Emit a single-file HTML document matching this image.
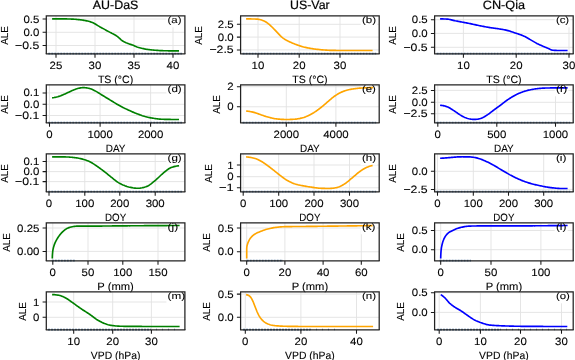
<!DOCTYPE html><html><head><meta charset="utf-8"><style>html,body{margin:0;padding:0;background:#fff;width:575px;height:360px;overflow:hidden}svg{display:block;text-rendering:geometricPrecision;will-change:transform}text{font-family:"Liberation Sans",sans-serif;fill:#000;stroke:#000;stroke-width:0.09px}</style></head><body>
<svg width="575" height="360" viewBox="0 0 575 360">
<rect width="575" height="360" fill="#fff"/>
<path d="M56.00,15.80V53.90M95.00,15.80V53.90M134.00,15.80V53.90M173.00,15.80V53.90M46.30,19.00H184.90M46.30,32.30H184.90M46.30,45.50H184.90" stroke="#e2e2e2" stroke-width="0.9" fill="none"/>
<rect x="166.38" y="17.30" width="16.33" height="10" fill="#fff"/>
<path d="M52.10,18.90 L53.11,18.90 L54.12,18.90 L55.13,18.90 L55.80,18.90 L56.81,18.90 L57.82,18.90 L58.83,18.90 L59.83,18.90 L60.84,18.90 L61.85,18.90 L62.86,18.90 L63.53,18.90 L64.54,18.90 L65.55,18.91 L66.56,18.93 L67.57,18.95 L68.58,18.98 L69.59,19.01 L70.59,19.05 L71.27,19.08 L72.27,19.12 L73.28,19.17 L74.29,19.22 L75.29,19.29 L76.30,19.37 L77.30,19.46 L78.31,19.57 L78.98,19.64 L79.98,19.77 L80.98,19.90 L81.98,20.03 L82.98,20.18 L83.97,20.34 L84.97,20.51 L85.63,20.64 L86.62,20.84 L87.61,21.06 L88.59,21.30 L89.56,21.56 L90.52,21.86 L91.47,22.20 L92.40,22.58 L93.02,22.85 L93.92,23.29 L94.80,23.77 L95.68,24.27 L96.54,24.80 L97.40,25.33 L98.27,25.85 L99.14,26.36 L99.72,26.70 L100.60,27.19 L101.49,27.68 L102.37,28.16 L103.26,28.65 L104.14,29.13 L105.03,29.62 L105.62,29.94 L106.50,30.43 L107.38,30.91 L108.27,31.40 L109.15,31.89 L110.04,32.37 L110.93,32.85 L111.82,33.32 L112.42,33.62 L113.33,34.08 L114.23,34.54 L115.12,35.02 L115.98,35.53 L116.82,36.08 L117.62,36.68 L118.39,37.32 L118.90,37.77 L119.64,38.46 L120.37,39.15 L121.12,39.83 L121.91,40.45 L122.74,41.01 L123.61,41.51 L124.50,41.98 L125.11,42.27 L126.03,42.69 L126.96,43.08 L127.90,43.44 L128.85,43.79 L129.80,44.11 L130.76,44.43 L131.40,44.65 L132.35,44.99 L133.29,45.35 L134.21,45.75 L135.13,46.16 L136.06,46.57 L136.99,46.93 L137.95,47.25 L138.59,47.43 L139.57,47.69 L140.55,47.94 L141.53,48.19 L142.51,48.43 L143.49,48.66 L144.47,48.88 L145.46,49.07 L146.12,49.19 L147.12,49.35 L148.11,49.49 L149.11,49.63 L150.11,49.75 L151.12,49.87 L152.12,49.98 L152.79,50.05 L153.80,50.14 L154.80,50.22 L155.81,50.30 L156.82,50.37 L157.82,50.43 L158.83,50.49 L159.84,50.56 L160.51,50.59 L161.52,50.65 L162.52,50.69 L163.53,50.73 L164.54,50.76 L165.55,50.78 L166.56,50.79 L167.57,50.80 L168.24,50.80 L169.25,50.80 L170.26,50.80 L171.26,50.80 L172.27,50.80 L173.28,50.80 L174.29,50.80 L175.30,50.80 L175.97,50.80 L176.98,50.80 L177.99,50.80 L179.00,50.80" stroke="#008000" stroke-width="1.65" fill="none" stroke-linejoin="round" stroke-linecap="butt"/>
<path d="M48.30,53.60H181.90" stroke="#1f4f80" stroke-width="1.9" stroke-dasharray="2 1" fill="none" opacity="0.75"/>
<path d="M46.30,53.90V15.80H184.90V53.90" fill="none" stroke="#222" stroke-width="1.25"/>
<path d="M45.80,53.90H185.40" fill="none" stroke="#222" stroke-width="1.25"/>
<path d="M56.00,53.90v3.9M95.00,53.90v3.9M134.00,53.90v3.9M173.00,53.90v3.9M46.30,19.00h-3.7M46.30,32.30h-3.7M46.30,45.50h-3.7" stroke="#181818" stroke-width="1.05" fill="none"/>
<text x="56.00" y="68.50" font-size="10.6" text-anchor="middle" textLength="12.73" lengthAdjust="spacingAndGlyphs">25</text>
<text x="95.00" y="68.50" font-size="10.6" text-anchor="middle" textLength="12.73" lengthAdjust="spacingAndGlyphs">30</text>
<text x="134.00" y="68.50" font-size="10.6" text-anchor="middle" textLength="12.73" lengthAdjust="spacingAndGlyphs">35</text>
<text x="173.00" y="68.50" font-size="10.6" text-anchor="middle" textLength="12.73" lengthAdjust="spacingAndGlyphs">40</text>
<text x="23.50" y="22.50" font-size="10.6" textLength="15.90" lengthAdjust="spacingAndGlyphs">0.5</text>
<text x="23.50" y="35.80" font-size="10.6" textLength="15.90" lengthAdjust="spacingAndGlyphs">0.0</text>
<text x="15.12" y="49.00" font-size="10.6" textLength="24.28" lengthAdjust="spacingAndGlyphs">−0.5</text>
<text transform="translate(7.72,35.45) rotate(-90)" x="-9.37" y="0" font-size="10.2" textLength="18.73" lengthAdjust="spacingAndGlyphs">ALE</text>
<text x="115.60" y="82.60" font-size="10.6" text-anchor="middle" textLength="35.42" lengthAdjust="spacingAndGlyphs">TS (°C)</text>
<text transform="translate(167.57,23.10) scale(1,0.93)" x="0" y="0" font-size="10.1" textLength="13.93" lengthAdjust="spacingAndGlyphs">(a)</text>
<text x="115.60" y="9.25" style="stroke-width:0.2px" font-size="12.2" text-anchor="middle" textLength="45.53" lengthAdjust="spacingAndGlyphs">AU-DaS</text>
<path d="M258.00,15.80V53.90M299.20,15.80V53.90M340.00,15.80V53.90M240.60,24.30H379.20M240.60,37.10H379.20M240.60,49.90H379.20" stroke="#e2e2e2" stroke-width="0.9" fill="none"/>
<rect x="360.68" y="17.30" width="16.55" height="10" fill="#fff"/>
<path d="M246.10,18.90 L247.14,18.90 L248.17,18.91 L249.20,18.92 L249.88,18.93 L250.91,18.94 L251.93,18.96 L252.94,18.98 L253.96,19.00 L254.97,19.03 L255.97,19.07 L256.98,19.13 L257.65,19.19 L258.66,19.32 L259.66,19.52 L260.67,19.78 L261.66,20.08 L262.63,20.42 L263.57,20.79 L264.48,21.19 L265.07,21.49 L265.94,21.98 L266.79,22.54 L267.61,23.16 L268.42,23.81 L269.21,24.48 L269.99,25.16 L270.75,25.84 L271.25,26.30 L271.99,27.00 L272.71,27.72 L273.42,28.45 L274.12,29.20 L274.82,29.94 L275.53,30.68 L276.00,31.18 L276.70,31.92 L277.41,32.66 L278.11,33.41 L278.81,34.17 L279.52,34.91 L280.23,35.65 L280.96,36.35 L281.46,36.81 L282.23,37.46 L283.02,38.07 L283.85,38.65 L284.71,39.20 L285.58,39.72 L286.48,40.23 L287.38,40.71 L287.99,41.03 L288.90,41.48 L289.82,41.92 L290.74,42.35 L291.67,42.76 L292.61,43.16 L293.56,43.55 L294.19,43.80 L295.14,44.17 L296.10,44.53 L297.05,44.88 L298.01,45.23 L298.98,45.57 L299.95,45.89 L300.92,46.20 L301.57,46.40 L302.55,46.68 L303.53,46.94 L304.52,47.19 L305.51,47.42 L306.51,47.64 L307.51,47.84 L308.51,48.04 L309.18,48.16 L310.18,48.34 L311.19,48.51 L312.19,48.67 L313.20,48.82 L314.21,48.96 L315.22,49.10 L316.23,49.23 L316.91,49.31 L317.92,49.42 L318.94,49.53 L319.95,49.63 L320.97,49.72 L321.98,49.82 L323.00,49.90 L323.68,49.96 L324.69,50.04 L325.71,50.11 L326.73,50.17 L327.75,50.23 L328.76,50.27 L329.78,50.31 L330.80,50.34 L331.48,50.35 L332.50,50.38 L333.52,50.40 L334.54,50.42 L335.56,50.44 L336.58,50.46 L337.60,50.47 L338.62,50.48 L339.30,50.49 L340.32,50.49 L341.34,50.50 L342.35,50.50 L343.37,50.50 L344.39,50.50 L345.41,50.50 L346.09,50.50 L347.11,50.50 L348.13,50.50 L349.15,50.50 L350.17,50.50 L351.19,50.50 L352.21,50.50 L353.23,50.50 L353.91,50.50 L354.93,50.50 L355.95,50.50 L356.97,50.50 L357.99,50.50 L359.01,50.50 L360.03,50.50 L361.05,50.50 L361.72,50.50 L362.74,50.50 L363.76,50.50 L364.78,50.50 L365.80,50.50 L366.82,50.50 L367.84,50.50 L368.86,50.50 L369.54,50.50 L370.56,50.50 L371.58,50.50 L372.60,50.50" stroke="#ffa500" stroke-width="1.65" fill="none" stroke-linejoin="round" stroke-linecap="butt"/>
<path d="M242.60,53.60H376.20" stroke="#1f4f80" stroke-width="1.9" stroke-dasharray="2 1" fill="none" opacity="0.75"/>
<path d="M240.60,53.90V15.80H379.20V53.90" fill="none" stroke="#222" stroke-width="1.25"/>
<path d="M240.10,53.90H379.70" fill="none" stroke="#222" stroke-width="1.25"/>
<path d="M258.00,53.90v3.9M299.20,53.90v3.9M340.00,53.90v3.9M240.60,24.30h-3.7M240.60,37.10h-3.7M240.60,49.90h-3.7" stroke="#181818" stroke-width="1.05" fill="none"/>
<text x="258.00" y="68.50" font-size="10.6" text-anchor="middle" textLength="12.73" lengthAdjust="spacingAndGlyphs">10</text>
<text x="299.20" y="68.50" font-size="10.6" text-anchor="middle" textLength="12.73" lengthAdjust="spacingAndGlyphs">20</text>
<text x="340.00" y="68.50" font-size="10.6" text-anchor="middle" textLength="12.73" lengthAdjust="spacingAndGlyphs">30</text>
<text x="217.80" y="27.80" font-size="10.6" textLength="15.90" lengthAdjust="spacingAndGlyphs">2.5</text>
<text x="217.80" y="40.60" font-size="10.6" textLength="15.90" lengthAdjust="spacingAndGlyphs">0.0</text>
<text x="209.42" y="53.40" font-size="10.6" textLength="24.28" lengthAdjust="spacingAndGlyphs">−2.5</text>
<text transform="translate(202.02,35.45) rotate(-90)" x="-9.37" y="0" font-size="10.2" textLength="18.73" lengthAdjust="spacingAndGlyphs">ALE</text>
<text x="309.90" y="82.60" font-size="10.6" text-anchor="middle" textLength="35.42" lengthAdjust="spacingAndGlyphs">TS (°C)</text>
<text transform="translate(361.88,23.10) scale(1,0.93)" x="0" y="0" font-size="10.1" textLength="14.15" lengthAdjust="spacingAndGlyphs">(b)</text>
<text x="309.90" y="9.25" style="stroke-width:0.2px" font-size="12.2" text-anchor="middle" textLength="39.59" lengthAdjust="spacingAndGlyphs">US-Var</text>
<path d="M463.40,15.80V53.90M516.20,15.80V53.90M569.00,15.80V53.90M434.60,19.70H573.20M434.60,33.40H573.20M434.60,47.30H573.20" stroke="#e2e2e2" stroke-width="0.9" fill="none"/>
<rect x="554.67" y="17.30" width="15.70" height="10" fill="#fff"/>
<path d="M440.10,18.90 L441.11,18.91 L442.11,18.92 L443.11,18.94 L443.78,18.96 L444.78,18.99 L445.77,19.03 L446.76,19.09 L447.75,19.17 L448.73,19.29 L449.71,19.47 L450.68,19.68 L451.33,19.85 L452.31,20.10 L453.28,20.35 L454.26,20.58 L455.23,20.80 L456.21,20.99 L457.20,21.18 L458.18,21.37 L458.83,21.49 L459.81,21.67 L460.80,21.85 L461.78,22.04 L462.76,22.22 L463.74,22.40 L464.73,22.59 L465.71,22.77 L466.36,22.90 L467.34,23.08 L468.33,23.27 L469.31,23.46 L470.28,23.66 L471.26,23.87 L472.24,24.08 L472.89,24.22 L473.86,24.44 L474.84,24.66 L475.81,24.88 L476.79,25.10 L477.76,25.31 L478.74,25.52 L479.72,25.72 L480.37,25.85 L481.35,26.05 L482.33,26.24 L483.32,26.43 L484.30,26.61 L485.28,26.79 L486.26,26.97 L487.25,27.14 L487.91,27.25 L488.89,27.41 L489.88,27.56 L490.87,27.70 L491.86,27.84 L492.85,27.97 L493.84,28.11 L494.50,28.20 L495.49,28.34 L496.48,28.48 L497.46,28.63 L498.45,28.78 L499.44,28.94 L500.43,29.10 L501.42,29.26 L502.08,29.37 L503.06,29.54 L504.05,29.73 L505.03,29.92 L506.00,30.12 L506.97,30.34 L507.93,30.58 L508.89,30.85 L509.53,31.04 L510.48,31.34 L511.43,31.66 L512.37,31.99 L513.32,32.32 L514.26,32.66 L515.21,32.99 L516.16,33.31 L516.79,33.52 L517.75,33.83 L518.70,34.14 L519.65,34.45 L520.60,34.77 L521.54,35.11 L522.46,35.47 L523.07,35.72 L523.98,36.13 L524.87,36.57 L525.74,37.04 L526.62,37.53 L527.48,38.04 L528.35,38.55 L529.21,39.05 L529.79,39.39 L530.66,39.89 L531.53,40.38 L532.40,40.88 L533.27,41.38 L534.14,41.87 L535.01,42.37 L535.88,42.86 L536.46,43.18 L537.34,43.65 L538.23,44.10 L539.12,44.54 L540.03,44.96 L540.93,45.37 L541.85,45.77 L542.47,46.03 L543.39,46.41 L544.31,46.79 L545.24,47.17 L546.17,47.55 L547.09,47.95 L548.00,48.37 L548.92,48.82 L549.52,49.11 L550.44,49.53 L551.37,49.86 L552.31,50.10 L553.28,50.24 L554.26,50.33 L555.25,50.40 L556.26,50.44 L556.93,50.46 L557.94,50.49 L558.94,50.50 L559.94,50.50 L560.94,50.50 L561.94,50.50 L562.94,50.50 L563.94,50.50 L564.60,50.50 L565.60,50.50 L566.60,50.50 L567.60,50.50" stroke="#0000ff" stroke-width="1.65" fill="none" stroke-linejoin="round" stroke-linecap="butt"/>
<path d="M436.60,53.60H570.20" stroke="#1f4f80" stroke-width="1.9" stroke-dasharray="2 1" fill="none" opacity="0.75"/>
<path d="M434.60,53.90V15.80H573.20V53.90" fill="none" stroke="#222" stroke-width="1.25"/>
<path d="M434.10,53.90H573.70" fill="none" stroke="#222" stroke-width="1.25"/>
<path d="M463.40,53.90v3.9M516.20,53.90v3.9M569.00,53.90v3.9M434.60,19.70h-3.7M434.60,33.40h-3.7M434.60,47.30h-3.7" stroke="#181818" stroke-width="1.05" fill="none"/>
<text x="463.40" y="68.50" font-size="10.6" text-anchor="middle" textLength="12.73" lengthAdjust="spacingAndGlyphs">10</text>
<text x="516.20" y="68.50" font-size="10.6" text-anchor="middle" textLength="12.73" lengthAdjust="spacingAndGlyphs">20</text>
<text x="569.00" y="68.50" font-size="10.6" text-anchor="middle" textLength="12.73" lengthAdjust="spacingAndGlyphs">30</text>
<text x="411.80" y="23.20" font-size="10.6" textLength="15.90" lengthAdjust="spacingAndGlyphs">0.5</text>
<text x="411.80" y="36.90" font-size="10.6" textLength="15.90" lengthAdjust="spacingAndGlyphs">0.0</text>
<text x="403.42" y="50.80" font-size="10.6" textLength="24.28" lengthAdjust="spacingAndGlyphs">−0.5</text>
<text transform="translate(396.02,35.45) rotate(-90)" x="-9.37" y="0" font-size="10.2" textLength="18.73" lengthAdjust="spacingAndGlyphs">ALE</text>
<text x="503.90" y="82.60" font-size="10.6" text-anchor="middle" textLength="35.42" lengthAdjust="spacingAndGlyphs">TS (°C)</text>
<text transform="translate(555.88,23.10) scale(1,0.93)" x="0" y="0" font-size="10.1" textLength="13.30" lengthAdjust="spacingAndGlyphs">(c)</text>
<text x="503.90" y="9.25" style="stroke-width:0.2px" font-size="12.2" text-anchor="middle" textLength="42.25" lengthAdjust="spacingAndGlyphs">CN-Qia</text>
<path d="M49.50,84.80V122.90M100.10,84.80V122.90M150.60,84.80V122.90M46.30,92.90H184.90M46.30,104.30H184.90M46.30,115.50H184.90" stroke="#e2e2e2" stroke-width="0.9" fill="none"/>
<rect x="166.38" y="86.30" width="16.55" height="10" fill="#fff"/>
<path d="M52.10,97.90 L53.11,97.73 L54.12,97.55 L55.13,97.34 L55.79,97.20 L56.78,96.96 L57.77,96.70 L58.74,96.41 L59.71,96.10 L60.67,95.75 L61.62,95.37 L62.56,94.98 L63.19,94.71 L64.13,94.30 L65.07,93.88 L66.00,93.47 L66.93,93.04 L67.86,92.60 L68.78,92.15 L69.70,91.71 L70.32,91.41 L71.24,90.98 L72.18,90.57 L73.12,90.18 L74.07,89.79 L75.03,89.42 L75.99,89.06 L76.96,88.74 L77.61,88.55 L78.60,88.30 L79.59,88.10 L80.60,87.93 L81.62,87.79 L82.63,87.69 L83.65,87.66 L84.33,87.66 L85.35,87.73 L86.37,87.85 L87.39,88.01 L88.39,88.21 L89.38,88.43 L90.35,88.70 L91.31,89.03 L91.94,89.29 L92.87,89.71 L93.79,90.17 L94.71,90.66 L95.61,91.15 L96.50,91.64 L97.39,92.15 L98.27,92.68 L98.85,93.03 L99.71,93.58 L100.57,94.13 L101.44,94.68 L102.30,95.23 L103.17,95.77 L104.04,96.31 L104.62,96.67 L105.49,97.20 L106.36,97.73 L107.24,98.26 L108.11,98.79 L108.98,99.32 L109.86,99.85 L110.73,100.38 L111.32,100.74 L112.19,101.27 L113.06,101.80 L113.93,102.34 L114.81,102.87 L115.68,103.40 L116.56,103.92 L117.44,104.44 L118.03,104.78 L118.92,105.28 L119.81,105.77 L120.71,106.26 L121.62,106.74 L122.52,107.21 L123.43,107.67 L124.35,108.13 L124.96,108.43 L125.88,108.88 L126.80,109.32 L127.72,109.76 L128.65,110.19 L129.58,110.61 L130.51,111.03 L131.14,111.31 L132.07,111.72 L133.01,112.12 L133.96,112.51 L134.90,112.90 L135.85,113.28 L136.80,113.65 L137.76,114.03 L138.39,114.27 L139.35,114.64 L140.31,115.00 L141.27,115.34 L142.24,115.68 L143.21,115.99 L144.19,116.28 L145.17,116.56 L145.82,116.73 L146.81,116.98 L147.81,117.22 L148.81,117.45 L149.81,117.66 L150.81,117.86 L151.82,118.04 L152.49,118.15 L153.50,118.31 L154.51,118.45 L155.52,118.59 L156.54,118.72 L157.56,118.85 L158.57,118.96 L159.59,119.06 L160.27,119.12 L161.29,119.20 L162.31,119.25 L163.33,119.29 L164.35,119.32 L165.37,119.35 L166.39,119.37 L167.41,119.39 L168.09,119.40 L169.11,119.42 L170.13,119.43 L171.15,119.45 L172.18,119.46 L173.20,119.47 L174.22,119.48 L175.24,119.49 L175.93,119.49 L176.95,119.49 L177.98,119.50 L179.00,119.50" stroke="#008000" stroke-width="1.65" fill="none" stroke-linejoin="round" stroke-linecap="butt"/>
<path d="M48.30,122.60H181.90" stroke="#1f4f80" stroke-width="1.9" stroke-dasharray="2 1" fill="none" opacity="0.75"/>
<path d="M46.30,122.90V84.80H184.90V122.90" fill="none" stroke="#222" stroke-width="1.25"/>
<path d="M45.80,122.90H185.40" fill="none" stroke="#222" stroke-width="1.25"/>
<path d="M49.50,122.90v3.9M100.10,122.90v3.9M150.60,122.90v3.9M46.30,92.90h-3.7M46.30,104.30h-3.7M46.30,115.50h-3.7" stroke="#181818" stroke-width="1.05" fill="none"/>
<text x="49.50" y="137.50" font-size="10.6" text-anchor="middle" textLength="6.36" lengthAdjust="spacingAndGlyphs">0</text>
<text x="100.10" y="137.50" font-size="10.6" text-anchor="middle" textLength="25.45" lengthAdjust="spacingAndGlyphs">1000</text>
<text x="150.60" y="137.50" font-size="10.6" text-anchor="middle" textLength="25.45" lengthAdjust="spacingAndGlyphs">2000</text>
<text x="23.50" y="96.40" font-size="10.6" textLength="15.90" lengthAdjust="spacingAndGlyphs">0.1</text>
<text x="23.50" y="107.80" font-size="10.6" textLength="15.90" lengthAdjust="spacingAndGlyphs">0.0</text>
<text x="15.12" y="119.00" font-size="10.6" textLength="24.28" lengthAdjust="spacingAndGlyphs">−0.1</text>
<text transform="translate(7.72,104.45) rotate(-90)" x="-9.37" y="0" font-size="10.2" textLength="18.73" lengthAdjust="spacingAndGlyphs">ALE</text>
<text x="115.60" y="151.60" font-size="10.6" text-anchor="middle" textLength="19.70" lengthAdjust="spacingAndGlyphs">DAY</text>
<text transform="translate(167.57,92.10) scale(1,0.93)" x="0" y="0" font-size="10.1" textLength="14.15" lengthAdjust="spacingAndGlyphs">(d)</text>
<path d="M286.30,84.80V122.90M335.90,84.80V122.90M240.60,86.70H379.20M240.60,106.80H379.20" stroke="#e2e2e2" stroke-width="0.9" fill="none"/>
<rect x="360.68" y="86.30" width="16.36" height="10" fill="#fff"/>
<path d="M246.10,111.00 L247.13,111.12 L248.16,111.24 L249.18,111.39 L249.86,111.50 L250.87,111.69 L251.87,111.88 L252.87,112.10 L253.87,112.34 L254.85,112.62 L255.83,112.93 L256.80,113.27 L257.45,113.50 L258.42,113.86 L259.38,114.22 L260.36,114.57 L261.33,114.91 L262.30,115.25 L263.27,115.59 L264.25,115.93 L264.90,116.15 L265.88,116.46 L266.86,116.76 L267.85,117.05 L268.84,117.32 L269.84,117.57 L270.84,117.83 L271.84,118.07 L272.52,118.22 L273.53,118.43 L274.54,118.61 L275.55,118.76 L276.57,118.89 L277.59,119.00 L278.61,119.09 L279.29,119.15 L280.32,119.23 L281.35,119.31 L282.38,119.37 L283.41,119.42 L284.44,119.46 L285.47,119.48 L286.50,119.49 L287.18,119.49 L288.21,119.47 L289.24,119.45 L290.27,119.42 L291.30,119.38 L292.33,119.33 L293.36,119.28 L294.38,119.21 L295.06,119.16 L296.09,119.06 L297.11,118.93 L298.13,118.77 L299.15,118.58 L300.16,118.37 L301.17,118.13 L301.83,117.97 L302.82,117.71 L303.80,117.43 L304.76,117.11 L305.72,116.75 L306.68,116.36 L307.62,115.93 L308.56,115.48 L309.18,115.17 L310.10,114.69 L311.01,114.20 L311.91,113.71 L312.80,113.20 L313.68,112.68 L314.56,112.13 L315.42,111.57 L315.99,111.19 L316.84,110.60 L317.68,110.00 L318.52,109.40 L319.34,108.78 L320.16,108.16 L320.97,107.52 L321.76,106.88 L322.29,106.44 L323.08,105.77 L323.86,105.10 L324.64,104.43 L325.42,103.76 L326.21,103.09 L326.99,102.42 L327.51,101.97 L328.29,101.30 L329.07,100.62 L329.85,99.94 L330.63,99.26 L331.41,98.59 L332.20,97.94 L333.01,97.30 L333.55,96.89 L334.38,96.29 L335.23,95.71 L336.09,95.13 L336.96,94.57 L337.84,94.03 L338.73,93.51 L339.64,93.02 L340.25,92.71 L341.17,92.27 L342.11,91.87 L343.06,91.48 L344.02,91.12 L345.00,90.78 L345.99,90.47 L346.65,90.27 L347.64,90.00 L348.64,89.76 L349.64,89.54 L350.65,89.34 L351.66,89.15 L352.68,88.98 L353.70,88.83 L354.38,88.73 L355.40,88.60 L356.42,88.48 L357.44,88.37 L358.47,88.27 L359.49,88.18 L360.52,88.10 L361.55,88.02 L362.23,87.98 L363.26,87.92 L364.29,87.87 L365.31,87.82 L366.34,87.78 L367.37,87.74 L368.40,87.70 L369.43,87.67 L370.11,87.65 L371.14,87.63 L372.17,87.61 L373.20,87.60" stroke="#ffa500" stroke-width="1.65" fill="none" stroke-linejoin="round" stroke-linecap="butt"/>
<path d="M242.60,122.60H376.20" stroke="#1f4f80" stroke-width="1.9" stroke-dasharray="2 1" fill="none" opacity="0.75"/>
<path d="M240.60,122.90V84.80H379.20V122.90" fill="none" stroke="#222" stroke-width="1.25"/>
<path d="M240.10,122.90H379.70" fill="none" stroke="#222" stroke-width="1.25"/>
<path d="M286.30,122.90v3.9M335.90,122.90v3.9M240.60,86.70h-3.7M240.60,106.80h-3.7" stroke="#181818" stroke-width="1.05" fill="none"/>
<text x="286.30" y="137.50" font-size="10.6" text-anchor="middle" textLength="25.45" lengthAdjust="spacingAndGlyphs">2000</text>
<text x="335.90" y="137.50" font-size="10.6" text-anchor="middle" textLength="25.45" lengthAdjust="spacingAndGlyphs">4000</text>
<text x="227.34" y="90.20" font-size="10.6" textLength="6.36" lengthAdjust="spacingAndGlyphs">2</text>
<text x="227.34" y="110.30" font-size="10.6" textLength="6.36" lengthAdjust="spacingAndGlyphs">0</text>
<text transform="translate(219.94,104.45) rotate(-90)" x="-9.37" y="0" font-size="10.2" textLength="18.73" lengthAdjust="spacingAndGlyphs">ALE</text>
<text x="309.90" y="151.60" font-size="10.6" text-anchor="middle" textLength="19.70" lengthAdjust="spacingAndGlyphs">DAY</text>
<text transform="translate(361.88,92.10) scale(1,0.93)" x="0" y="0" font-size="10.1" textLength="13.96" lengthAdjust="spacingAndGlyphs">(e)</text>
<path d="M437.80,84.80V122.90M496.80,84.80V122.90M555.50,84.80V122.90M434.60,90.40H573.20M434.60,102.30H573.20M434.60,113.70H573.20" stroke="#e2e2e2" stroke-width="0.9" fill="none"/>
<rect x="554.67" y="86.30" width="13.72" height="10" fill="#fff"/>
<path d="M440.10,105.20 L441.16,105.33 L442.21,105.49 L443.24,105.68 L443.93,105.83 L444.93,106.07 L445.92,106.36 L446.89,106.69 L447.84,107.08 L448.78,107.53 L449.70,108.04 L450.61,108.58 L451.21,108.96 L452.11,109.52 L453.00,110.09 L453.89,110.66 L454.76,111.24 L455.63,111.83 L456.49,112.44 L457.35,113.04 L457.92,113.45 L458.79,114.04 L459.66,114.60 L460.56,115.14 L461.47,115.66 L462.39,116.16 L463.33,116.66 L464.27,117.14 L464.91,117.43 L465.88,117.84 L466.86,118.20 L467.85,118.50 L468.85,118.75 L469.87,118.96 L470.91,119.15 L471.60,119.25 L472.65,119.37 L473.69,119.44 L474.74,119.44 L475.79,119.37 L476.83,119.25 L477.87,119.09 L478.90,118.89 L479.58,118.74 L480.57,118.47 L481.54,118.15 L482.49,117.75 L483.43,117.28 L484.35,116.76 L485.26,116.20 L486.16,115.63 L486.76,115.24 L487.64,114.67 L488.50,114.08 L489.35,113.48 L490.19,112.85 L491.03,112.21 L491.85,111.57 L492.40,111.13 L493.23,110.48 L494.06,109.84 L494.90,109.22 L495.75,108.60 L496.60,108.00 L497.46,107.40 L498.32,106.79 L498.89,106.39 L499.74,105.78 L500.58,105.15 L501.41,104.52 L502.24,103.87 L503.06,103.22 L503.88,102.57 L504.71,101.92 L505.26,101.50 L506.10,100.87 L506.95,100.26 L507.81,99.67 L508.68,99.09 L509.55,98.52 L510.44,97.95 L511.33,97.40 L511.93,97.04 L512.84,96.51 L513.75,95.99 L514.67,95.49 L515.60,95.01 L516.53,94.55 L517.48,94.09 L518.11,93.79 L519.07,93.36 L520.03,92.93 L521.00,92.53 L521.98,92.15 L522.96,91.79 L523.95,91.46 L524.94,91.15 L525.61,90.96 L526.62,90.68 L527.63,90.42 L528.65,90.17 L529.68,89.93 L530.71,89.71 L531.74,89.51 L532.77,89.32 L533.46,89.21 L534.49,89.05 L535.52,88.90 L536.56,88.76 L537.60,88.63 L538.64,88.51 L539.69,88.40 L540.38,88.33 L541.43,88.24 L542.47,88.17 L543.52,88.12 L544.56,88.08 L545.61,88.05 L546.65,88.02 L547.70,87.99 L548.40,87.98 L549.45,87.96 L550.49,87.94 L551.54,87.92 L552.59,87.91 L553.64,87.91 L554.68,87.90 L555.73,87.90 L556.43,87.90 L557.48,87.90 L558.52,87.90 L559.57,87.90 L560.62,87.90 L561.67,87.90 L562.71,87.90 L563.76,87.90 L564.46,87.90 L565.51,87.90 L566.55,87.90 L567.60,87.90" stroke="#0000ff" stroke-width="1.65" fill="none" stroke-linejoin="round" stroke-linecap="butt"/>
<path d="M436.60,122.60H570.20" stroke="#1f4f80" stroke-width="1.9" stroke-dasharray="2 1" fill="none" opacity="0.75"/>
<path d="M434.60,122.90V84.80H573.20V122.90" fill="none" stroke="#222" stroke-width="1.25"/>
<path d="M434.10,122.90H573.70" fill="none" stroke="#222" stroke-width="1.25"/>
<path d="M437.80,122.90v3.9M496.80,122.90v3.9M555.50,122.90v3.9M434.60,90.40h-3.7M434.60,102.30h-3.7M434.60,113.70h-3.7" stroke="#181818" stroke-width="1.05" fill="none"/>
<text x="437.80" y="137.50" font-size="10.6" text-anchor="middle" textLength="6.36" lengthAdjust="spacingAndGlyphs">0</text>
<text x="496.80" y="137.50" font-size="10.6" text-anchor="middle" textLength="19.09" lengthAdjust="spacingAndGlyphs">500</text>
<text x="555.50" y="137.50" font-size="10.6" text-anchor="middle" textLength="25.45" lengthAdjust="spacingAndGlyphs">1000</text>
<text x="411.80" y="93.90" font-size="10.6" textLength="15.90" lengthAdjust="spacingAndGlyphs">2.5</text>
<text x="411.80" y="105.80" font-size="10.6" textLength="15.90" lengthAdjust="spacingAndGlyphs">0.0</text>
<text x="403.42" y="117.20" font-size="10.6" textLength="24.28" lengthAdjust="spacingAndGlyphs">−2.5</text>
<text transform="translate(396.02,104.45) rotate(-90)" x="-9.37" y="0" font-size="10.2" textLength="18.73" lengthAdjust="spacingAndGlyphs">ALE</text>
<text x="503.90" y="151.60" font-size="10.6" text-anchor="middle" textLength="19.70" lengthAdjust="spacingAndGlyphs">DAY</text>
<text transform="translate(555.88,92.10) scale(1,0.93)" x="0" y="0" font-size="10.1" textLength="11.32" lengthAdjust="spacingAndGlyphs">(f)</text>
<path d="M49.00,153.80V191.90M84.80,153.80V191.90M119.80,153.80V191.90M155.20,153.80V191.90M46.30,161.50H184.90M46.30,171.60H184.90M46.30,181.60H184.90" stroke="#e2e2e2" stroke-width="0.9" fill="none"/>
<rect x="166.38" y="155.30" width="16.55" height="10" fill="#fff"/>
<path d="M52.10,156.90 L53.17,156.90 L54.24,156.90 L55.31,156.90 L56.03,156.90 L57.10,156.90 L58.17,156.90 L59.24,156.90 L60.31,156.90 L61.38,156.90 L62.45,156.90 L63.52,156.90 L64.23,156.91 L65.30,156.92 L66.38,156.95 L67.45,156.99 L68.52,157.05 L69.59,157.12 L70.66,157.21 L71.72,157.29 L72.43,157.36 L73.50,157.46 L74.56,157.57 L75.62,157.71 L76.68,157.87 L77.74,158.05 L78.79,158.26 L79.84,158.48 L80.54,158.64 L81.58,158.88 L82.62,159.15 L83.65,159.43 L84.68,159.74 L85.70,160.07 L86.71,160.44 L87.38,160.69 L88.37,161.09 L89.35,161.52 L90.30,161.98 L91.24,162.47 L92.16,163.01 L93.07,163.58 L93.97,164.17 L94.56,164.57 L95.45,165.19 L96.34,165.80 L97.22,166.41 L98.10,167.02 L98.98,167.64 L99.85,168.26 L100.72,168.88 L101.30,169.30 L102.16,169.94 L103.02,170.58 L103.87,171.23 L104.72,171.88 L105.56,172.54 L106.40,173.21 L106.95,173.66 L107.78,174.34 L108.61,175.02 L109.43,175.70 L110.26,176.37 L111.10,177.04 L111.94,177.71 L112.78,178.39 L113.34,178.84 L114.18,179.52 L115.02,180.20 L115.87,180.86 L116.73,181.50 L117.61,182.10 L118.50,182.66 L119.42,183.19 L120.04,183.52 L120.99,184.01 L121.95,184.48 L122.93,184.93 L123.93,185.36 L124.93,185.77 L125.95,186.14 L126.97,186.49 L127.66,186.69 L128.69,186.97 L129.72,187.21 L130.76,187.42 L131.81,187.62 L132.87,187.81 L133.94,187.97 L134.65,188.07 L135.72,188.17 L136.79,188.24 L137.85,188.25 L138.92,188.21 L140.00,188.10 L141.07,187.95 L142.14,187.75 L142.85,187.59 L143.89,187.34 L144.91,187.06 L145.90,186.75 L146.86,186.39 L147.80,185.95 L148.72,185.44 L149.63,184.86 L150.22,184.44 L151.10,183.79 L151.97,183.10 L152.83,182.41 L153.68,181.72 L154.52,181.04 L155.34,180.36 L155.89,179.90 L156.69,179.19 L157.48,178.47 L158.26,177.73 L159.03,176.98 L159.81,176.24 L160.58,175.49 L161.36,174.76 L161.89,174.28 L162.70,173.57 L163.51,172.88 L164.34,172.19 L165.18,171.50 L166.03,170.80 L166.89,170.12 L167.76,169.47 L168.35,169.06 L169.25,168.50 L170.17,168.02 L171.12,167.60 L172.09,167.24 L173.08,166.91 L174.09,166.61 L175.13,166.35 L175.83,166.19 L176.91,165.99 L178.00,165.83 L179.10,165.70" stroke="#008000" stroke-width="1.65" fill="none" stroke-linejoin="round" stroke-linecap="butt"/>
<path d="M48.30,191.60H181.90" stroke="#1f4f80" stroke-width="1.9" stroke-dasharray="2 1" fill="none" opacity="0.75"/>
<path d="M46.30,191.90V153.80H184.90V191.90" fill="none" stroke="#222" stroke-width="1.25"/>
<path d="M45.80,191.90H185.40" fill="none" stroke="#222" stroke-width="1.25"/>
<path d="M49.00,191.90v3.9M84.80,191.90v3.9M119.80,191.90v3.9M155.20,191.90v3.9M46.30,161.50h-3.7M46.30,171.60h-3.7M46.30,181.60h-3.7" stroke="#181818" stroke-width="1.05" fill="none"/>
<text x="49.00" y="206.50" font-size="10.6" text-anchor="middle" textLength="6.36" lengthAdjust="spacingAndGlyphs">0</text>
<text x="84.80" y="206.50" font-size="10.6" text-anchor="middle" textLength="19.09" lengthAdjust="spacingAndGlyphs">100</text>
<text x="119.80" y="206.50" font-size="10.6" text-anchor="middle" textLength="19.09" lengthAdjust="spacingAndGlyphs">200</text>
<text x="155.20" y="206.50" font-size="10.6" text-anchor="middle" textLength="19.09" lengthAdjust="spacingAndGlyphs">300</text>
<text x="23.50" y="165.00" font-size="10.6" textLength="15.90" lengthAdjust="spacingAndGlyphs">0.1</text>
<text x="23.50" y="175.10" font-size="10.6" textLength="15.90" lengthAdjust="spacingAndGlyphs">0.0</text>
<text x="15.12" y="185.10" font-size="10.6" textLength="24.28" lengthAdjust="spacingAndGlyphs">−0.1</text>
<text transform="translate(7.72,173.45) rotate(-90)" x="-9.37" y="0" font-size="10.2" textLength="18.73" lengthAdjust="spacingAndGlyphs">ALE</text>
<text x="115.60" y="220.60" font-size="10.6" text-anchor="middle" textLength="21.13" lengthAdjust="spacingAndGlyphs">DOY</text>
<text transform="translate(167.57,161.10) scale(1,0.93)" x="0" y="0" font-size="10.1" textLength="14.15" lengthAdjust="spacingAndGlyphs">(g)</text>
<path d="M243.20,153.80V191.90M278.70,153.80V191.90M314.00,153.80V191.90M349.50,153.80V191.90M240.60,165.00H379.20M240.60,176.70H379.20M240.60,187.80H379.20" stroke="#e2e2e2" stroke-width="0.9" fill="none"/>
<rect x="360.68" y="155.30" width="16.54" height="10" fill="#fff"/>
<path d="M246.10,156.90 L247.18,156.98 L248.26,157.08 L249.32,157.22 L250.03,157.33 L251.08,157.52 L252.12,157.73 L253.14,157.96 L254.16,158.21 L255.16,158.50 L256.16,158.84 L257.14,159.23 L257.79,159.52 L258.76,159.99 L259.71,160.49 L260.65,161.00 L261.58,161.53 L262.49,162.07 L263.39,162.62 L264.28,163.20 L264.86,163.60 L265.73,164.22 L266.60,164.85 L267.45,165.49 L268.31,166.13 L269.16,166.78 L270.00,167.43 L270.85,168.07 L271.41,168.50 L272.25,169.16 L273.09,169.81 L273.92,170.48 L274.75,171.14 L275.58,171.81 L276.41,172.48 L276.97,172.92 L277.80,173.57 L278.64,174.23 L279.49,174.87 L280.33,175.53 L281.18,176.18 L282.03,176.84 L282.88,177.49 L283.45,177.91 L284.31,178.54 L285.19,179.15 L286.07,179.72 L286.97,180.27 L287.89,180.79 L288.82,181.29 L289.77,181.77 L290.41,182.09 L291.38,182.54 L292.36,182.97 L293.35,183.37 L294.35,183.74 L295.36,184.08 L296.37,184.38 L297.05,184.56 L298.07,184.82 L299.11,185.05 L300.15,185.27 L301.20,185.48 L302.25,185.68 L303.30,185.87 L304.35,186.05 L305.05,186.18 L306.10,186.36 L307.15,186.53 L308.20,186.70 L309.25,186.86 L310.30,187.02 L311.36,187.17 L312.41,187.32 L313.11,187.42 L314.17,187.56 L315.22,187.71 L316.28,187.86 L317.33,187.99 L318.39,188.11 L319.45,188.20 L320.51,188.27 L321.22,188.31 L322.28,188.35 L323.34,188.39 L324.41,188.42 L325.47,188.45 L326.54,188.47 L327.60,188.48 L328.31,188.49 L329.37,188.48 L330.44,188.44 L331.50,188.37 L332.57,188.27 L333.63,188.13 L334.68,187.96 L335.72,187.77 L336.41,187.63 L337.42,187.38 L338.43,187.06 L339.42,186.68 L340.40,186.24 L341.37,185.76 L342.32,185.25 L343.25,184.72 L343.86,184.36 L344.75,183.81 L345.62,183.22 L346.48,182.61 L347.32,181.96 L348.15,181.29 L348.97,180.60 L349.52,180.13 L350.33,179.43 L351.15,178.74 L351.97,178.05 L352.78,177.36 L353.60,176.67 L354.40,175.97 L355.21,175.27 L355.74,174.80 L356.55,174.10 L357.36,173.41 L358.18,172.74 L359.02,172.09 L359.88,171.47 L360.75,170.86 L361.63,170.27 L362.23,169.88 L363.14,169.31 L364.06,168.76 L364.99,168.24 L365.93,167.76 L366.89,167.32 L367.86,166.92 L368.85,166.54 L369.52,166.31 L370.54,165.98 L371.56,165.68 L372.60,165.40" stroke="#ffa500" stroke-width="1.65" fill="none" stroke-linejoin="round" stroke-linecap="butt"/>
<path d="M242.60,191.60H376.20" stroke="#1f4f80" stroke-width="1.9" stroke-dasharray="2 1" fill="none" opacity="0.75"/>
<path d="M240.60,191.90V153.80H379.20V191.90" fill="none" stroke="#222" stroke-width="1.25"/>
<path d="M240.10,191.90H379.70" fill="none" stroke="#222" stroke-width="1.25"/>
<path d="M243.20,191.90v3.9M278.70,191.90v3.9M314.00,191.90v3.9M349.50,191.90v3.9M240.60,165.00h-3.7M240.60,176.70h-3.7M240.60,187.80h-3.7" stroke="#181818" stroke-width="1.05" fill="none"/>
<text x="243.20" y="206.50" font-size="10.6" text-anchor="middle" textLength="6.36" lengthAdjust="spacingAndGlyphs">0</text>
<text x="278.70" y="206.50" font-size="10.6" text-anchor="middle" textLength="19.09" lengthAdjust="spacingAndGlyphs">100</text>
<text x="314.00" y="206.50" font-size="10.6" text-anchor="middle" textLength="19.09" lengthAdjust="spacingAndGlyphs">200</text>
<text x="349.50" y="206.50" font-size="10.6" text-anchor="middle" textLength="19.09" lengthAdjust="spacingAndGlyphs">300</text>
<text x="227.34" y="168.50" font-size="10.6" textLength="6.36" lengthAdjust="spacingAndGlyphs">1</text>
<text x="227.34" y="180.20" font-size="10.6" textLength="6.36" lengthAdjust="spacingAndGlyphs">0</text>
<text x="218.96" y="191.30" font-size="10.6" textLength="14.74" lengthAdjust="spacingAndGlyphs">−1</text>
<text transform="translate(211.56,173.45) rotate(-90)" x="-9.37" y="0" font-size="10.2" textLength="18.73" lengthAdjust="spacingAndGlyphs">ALE</text>
<text x="309.90" y="220.60" font-size="10.6" text-anchor="middle" textLength="21.13" lengthAdjust="spacingAndGlyphs">DOY</text>
<text transform="translate(361.88,161.10) scale(1,0.93)" x="0" y="0" font-size="10.1" textLength="14.14" lengthAdjust="spacingAndGlyphs">(h)</text>
<path d="M437.50,153.80V191.90M473.30,153.80V191.90M508.50,153.80V191.90M543.70,153.80V191.90M434.60,171.30H573.20M434.60,189.40H573.20" stroke="#e2e2e2" stroke-width="0.9" fill="none"/>
<rect x="554.67" y="155.30" width="12.98" height="10" fill="#fff"/>
<path d="M440.10,158.30 L441.11,158.24 L442.11,158.17 L443.12,158.11 L443.79,158.06 L444.79,157.99 L445.80,157.92 L446.80,157.84 L447.81,157.76 L448.81,157.68 L449.82,157.58 L450.82,157.49 L451.49,157.42 L452.49,157.32 L453.50,157.23 L454.50,157.14 L455.51,157.07 L456.51,157.00 L457.52,156.94 L458.52,156.89 L459.20,156.86 L460.20,156.83 L461.21,156.81 L462.22,156.80 L463.23,156.80 L464.24,156.80 L465.24,156.80 L466.25,156.80 L466.92,156.81 L467.93,156.82 L468.94,156.86 L469.95,156.92 L470.95,157.00 L471.96,157.10 L472.96,157.21 L473.62,157.30 L474.61,157.46 L475.60,157.65 L476.58,157.88 L477.56,158.14 L478.53,158.42 L479.50,158.72 L480.45,159.04 L481.08,159.26 L482.02,159.62 L482.95,160.00 L483.88,160.41 L484.80,160.82 L485.72,161.24 L486.64,161.66 L487.55,162.08 L488.16,162.37 L489.07,162.81 L489.98,163.25 L490.88,163.71 L491.77,164.17 L492.66,164.65 L493.54,165.14 L494.12,165.47 L494.99,165.98 L495.85,166.50 L496.71,167.03 L497.57,167.55 L498.44,168.08 L499.30,168.60 L500.16,169.12 L500.73,169.47 L501.59,170.00 L502.46,170.52 L503.32,171.04 L504.18,171.56 L505.05,172.07 L505.93,172.57 L506.80,173.07 L507.39,173.40 L508.27,173.90 L509.15,174.38 L510.03,174.87 L510.92,175.34 L511.81,175.81 L512.71,176.28 L513.60,176.74 L514.20,177.05 L515.11,177.50 L516.01,177.94 L516.92,178.37 L517.84,178.79 L518.76,179.19 L519.69,179.59 L520.31,179.85 L521.24,180.24 L522.18,180.61 L523.12,180.98 L524.06,181.34 L525.01,181.69 L525.96,182.02 L526.91,182.34 L527.55,182.55 L528.51,182.85 L529.48,183.13 L530.44,183.41 L531.41,183.68 L532.39,183.94 L533.37,184.19 L534.35,184.43 L535.00,184.59 L535.98,184.83 L536.97,185.05 L537.95,185.27 L538.94,185.48 L539.92,185.69 L540.91,185.90 L541.57,186.04 L542.56,186.24 L543.54,186.44 L544.54,186.64 L545.53,186.83 L546.52,187.01 L547.52,187.17 L548.51,187.33 L549.18,187.43 L550.17,187.57 L551.17,187.69 L552.17,187.81 L553.17,187.92 L554.17,188.04 L555.18,188.14 L556.18,188.24 L556.85,188.30 L557.86,188.37 L558.87,188.43 L559.87,188.47 L560.88,188.49 L561.89,188.50 L562.89,188.50 L563.90,188.50 L564.57,188.50 L565.58,188.50 L566.59,188.50 L567.60,188.50" stroke="#0000ff" stroke-width="1.65" fill="none" stroke-linejoin="round" stroke-linecap="butt"/>
<path d="M436.60,191.60H570.20" stroke="#1f4f80" stroke-width="1.9" stroke-dasharray="2 1" fill="none" opacity="0.75"/>
<path d="M434.60,191.90V153.80H573.20V191.90" fill="none" stroke="#222" stroke-width="1.25"/>
<path d="M434.10,191.90H573.70" fill="none" stroke="#222" stroke-width="1.25"/>
<path d="M437.50,191.90v3.9M473.30,191.90v3.9M508.50,191.90v3.9M543.70,191.90v3.9M434.60,171.30h-3.7M434.60,189.40h-3.7" stroke="#181818" stroke-width="1.05" fill="none"/>
<text x="437.50" y="206.50" font-size="10.6" text-anchor="middle" textLength="6.36" lengthAdjust="spacingAndGlyphs">0</text>
<text x="473.30" y="206.50" font-size="10.6" text-anchor="middle" textLength="19.09" lengthAdjust="spacingAndGlyphs">100</text>
<text x="508.50" y="206.50" font-size="10.6" text-anchor="middle" textLength="19.09" lengthAdjust="spacingAndGlyphs">200</text>
<text x="543.70" y="206.50" font-size="10.6" text-anchor="middle" textLength="19.09" lengthAdjust="spacingAndGlyphs">300</text>
<text x="411.80" y="174.80" font-size="10.6" textLength="15.90" lengthAdjust="spacingAndGlyphs">0.0</text>
<text x="403.42" y="192.90" font-size="10.6" textLength="24.28" lengthAdjust="spacingAndGlyphs">−2.5</text>
<text transform="translate(396.02,173.45) rotate(-90)" x="-9.37" y="0" font-size="10.2" textLength="18.73" lengthAdjust="spacingAndGlyphs">ALE</text>
<text x="503.90" y="220.60" font-size="10.6" text-anchor="middle" textLength="21.13" lengthAdjust="spacingAndGlyphs">DOY</text>
<text transform="translate(555.88,161.10) scale(1,0.93)" x="0" y="0" font-size="10.1" textLength="10.58" lengthAdjust="spacingAndGlyphs">(i)</text>
<path d="M52.80,222.80V260.90M88.00,222.80V260.90M122.80,222.80V260.90M158.00,222.80V260.90M46.30,228.00H184.90M46.30,251.40H184.90" stroke="#e2e2e2" stroke-width="0.9" fill="none"/>
<rect x="166.38" y="224.30" width="12.98" height="10" fill="#fff"/>
<path d="M52.30,258.40 L52.33,257.28 L52.36,256.16 L52.42,255.05 L52.47,254.31 L52.55,253.21 L52.65,252.11 L52.77,251.01 L52.94,249.91 L53.15,248.82 L53.41,247.73 L53.70,246.65 L53.91,245.94 L54.26,244.88 L54.63,243.85 L55.04,242.82 L55.51,241.81 L56.02,240.82 L56.56,239.84 L57.13,238.88 L57.52,238.25 L58.12,237.32 L58.75,236.39 L59.40,235.49 L60.08,234.60 L60.79,233.75 L61.53,232.92 L62.30,232.12 L62.83,231.60 L63.66,230.84 L64.52,230.12 L65.41,229.45 L66.34,228.86 L67.31,228.34 L68.31,227.88 L69.00,227.60 L70.06,227.24 L71.13,226.95 L72.21,226.71 L73.31,226.53 L74.41,226.37 L75.52,226.24 L76.63,226.16 L77.37,226.13 L78.48,226.11 L79.59,226.10 L80.70,226.10 L81.81,226.10 L82.92,226.10 L84.03,226.10 L85.14,226.10 L85.88,226.10 L86.99,226.10 L88.11,226.10 L89.22,226.10 L90.33,226.10 L91.44,226.10 L92.56,226.10 L93.30,226.10 L94.41,226.10 L95.52,226.10 L96.63,226.10 L97.74,226.09 L98.85,226.08 L99.96,226.08 L101.08,226.07 L101.82,226.06 L102.93,226.05 L104.04,226.04 L105.15,226.02 L106.26,226.01 L107.37,226.00 L108.48,225.98 L109.60,225.97 L110.34,225.96 L111.45,225.95 L112.56,225.93 L113.67,225.92 L114.78,225.91 L115.89,225.90 L117.00,225.89 L118.11,225.88 L118.85,225.88 L119.97,225.87 L121.08,225.86 L122.19,225.85 L123.30,225.84 L124.41,225.84 L125.52,225.83 L126.26,225.82 L127.37,225.81 L128.48,225.80 L129.60,225.80 L130.71,225.79 L131.82,225.78 L132.93,225.77 L134.04,225.76 L134.78,225.76 L135.89,225.75 L137.00,225.74 L138.12,225.74 L139.23,225.73 L140.34,225.72 L141.45,225.71 L142.56,225.70 L143.30,225.70 L144.41,225.69 L145.52,225.68 L146.63,225.68 L147.75,225.67 L148.86,225.66 L149.97,225.66 L150.71,225.65 L151.82,225.64 L152.93,225.64 L154.04,225.63 L155.15,225.62 L156.26,225.62 L157.38,225.61 L158.49,225.60 L159.23,225.60 L160.34,225.59 L161.45,225.59 L162.56,225.58 L163.67,225.57 L164.78,225.57 L165.90,225.56 L167.01,225.56 L167.75,225.55 L168.86,225.55 L169.97,225.54 L171.08,225.54 L172.19,225.53 L173.30,225.53 L174.41,225.52 L175.53,225.52 L176.27,225.51 L177.38,225.51 L178.49,225.50 L179.60,225.50" stroke="#008000" stroke-width="1.65" fill="none" stroke-linejoin="round" stroke-linecap="butt"/>
<path d="M51.80,260.60H75.50" stroke="#1f4f80" stroke-width="1.9" stroke-dasharray="2 1" fill="none" opacity="0.75"/>
<path d="M46.30,260.90V222.80H184.90V260.90" fill="none" stroke="#222" stroke-width="1.25"/>
<path d="M45.80,260.90H185.40" fill="none" stroke="#222" stroke-width="1.25"/>
<path d="M52.80,260.90v3.9M88.00,260.90v3.9M122.80,260.90v3.9M158.00,260.90v3.9M46.30,228.00h-3.7M46.30,251.40h-3.7" stroke="#181818" stroke-width="1.05" fill="none"/>
<text x="52.80" y="275.50" font-size="10.6" text-anchor="middle" textLength="6.36" lengthAdjust="spacingAndGlyphs">0</text>
<text x="88.00" y="275.50" font-size="10.6" text-anchor="middle" textLength="12.73" lengthAdjust="spacingAndGlyphs">50</text>
<text x="122.80" y="275.50" font-size="10.6" text-anchor="middle" textLength="19.09" lengthAdjust="spacingAndGlyphs">100</text>
<text x="158.00" y="275.50" font-size="10.6" text-anchor="middle" textLength="19.09" lengthAdjust="spacingAndGlyphs">150</text>
<text x="17.13" y="231.50" font-size="10.6" textLength="22.27" lengthAdjust="spacingAndGlyphs">0.25</text>
<text x="17.13" y="254.90" font-size="10.6" textLength="22.27" lengthAdjust="spacingAndGlyphs">0.00</text>
<text transform="translate(9.73,242.45) rotate(-90)" x="-9.37" y="0" font-size="10.2" textLength="18.73" lengthAdjust="spacingAndGlyphs">ALE</text>
<text x="115.60" y="289.60" font-size="10.6" text-anchor="middle" textLength="36.49" lengthAdjust="spacingAndGlyphs">P (mm)</text>
<text transform="translate(167.57,230.10) scale(1,0.93)" x="0" y="0" font-size="10.1" textLength="10.58" lengthAdjust="spacingAndGlyphs">(j)</text>
<path d="M246.70,222.80V260.90M284.90,222.80V260.90M323.10,222.80V260.90M361.30,222.80V260.90M240.60,228.00H379.20M240.60,251.80H379.20" stroke="#e2e2e2" stroke-width="0.9" fill="none"/>
<rect x="360.68" y="224.30" width="15.99" height="10" fill="#fff"/>
<path d="M246.70,258.40 L246.70,257.29 L246.70,256.18 L246.70,255.07 L246.70,254.33 L246.70,253.23 L246.70,252.14 L246.70,251.05 L246.70,249.96 L246.71,248.87 L246.76,247.79 L246.87,246.71 L247.00,245.99 L247.26,244.92 L247.59,243.86 L247.95,242.83 L248.36,241.80 L248.83,240.80 L249.34,239.82 L249.92,238.89 L250.33,238.29 L251.00,237.44 L251.73,236.62 L252.53,235.85 L253.38,235.14 L254.26,234.49 L255.17,233.91 L256.12,233.38 L256.77,233.06 L257.77,232.60 L258.80,232.16 L259.82,231.75 L260.85,231.34 L261.88,230.94 L262.90,230.55 L263.59,230.30 L264.63,229.93 L265.67,229.59 L266.72,229.27 L267.78,228.98 L268.84,228.71 L269.91,228.46 L270.98,228.23 L271.70,228.08 L272.78,227.87 L273.86,227.68 L274.95,227.52 L276.04,227.37 L277.13,227.24 L278.22,227.12 L279.31,227.00 L280.04,226.94 L281.13,226.85 L282.23,226.78 L283.33,226.73 L284.42,226.69 L285.52,226.66 L286.61,226.64 L287.35,226.63 L288.44,226.61 L289.54,226.59 L290.64,226.58 L291.73,226.56 L292.83,226.55 L293.93,226.54 L295.03,226.53 L295.76,226.52 L296.86,226.51 L297.95,226.50 L299.05,226.50 L300.15,226.49 L301.25,226.48 L302.35,226.47 L303.45,226.46 L304.18,226.46 L305.28,226.45 L306.38,226.44 L307.47,226.43 L308.57,226.42 L309.67,226.40 L310.77,226.39 L311.86,226.38 L312.60,226.37 L313.69,226.36 L314.79,226.34 L315.89,226.33 L316.99,226.32 L318.08,226.30 L319.18,226.29 L319.91,226.28 L321.01,226.27 L322.11,226.25 L323.21,226.24 L324.30,226.23 L325.40,226.21 L326.50,226.20 L327.60,226.19 L328.33,226.18 L329.43,226.16 L330.52,226.15 L331.62,226.14 L332.72,226.12 L333.82,226.11 L334.91,226.09 L336.01,226.08 L336.74,226.07 L337.84,226.06 L338.94,226.04 L340.04,226.03 L341.13,226.02 L342.23,226.00 L343.33,225.99 L344.06,225.98 L345.16,225.96 L346.26,225.95 L347.35,225.94 L348.45,225.92 L349.55,225.91 L350.65,225.89 L351.75,225.88 L352.48,225.87 L353.57,225.85 L354.67,225.84 L355.77,225.83 L356.87,225.81 L357.97,225.80 L359.06,225.78 L360.16,225.77 L360.89,225.76 L361.99,225.74 L363.09,225.73 L364.18,225.71 L365.28,225.70 L366.38,225.68 L367.48,225.67 L368.58,225.65 L369.31,225.64 L370.40,225.63 L371.50,225.62 L372.60,225.60" stroke="#ffa500" stroke-width="1.65" fill="none" stroke-linejoin="round" stroke-linecap="butt"/>
<path d="M246.70,260.60H283.00" stroke="#1f4f80" stroke-width="1.9" stroke-dasharray="2 1" fill="none" opacity="0.75"/>
<path d="M240.60,260.90V222.80H379.20V260.90" fill="none" stroke="#222" stroke-width="1.25"/>
<path d="M240.10,260.90H379.70" fill="none" stroke="#222" stroke-width="1.25"/>
<path d="M246.70,260.90v3.9M284.90,260.90v3.9M323.10,260.90v3.9M361.30,260.90v3.9M240.60,228.00h-3.7M240.60,251.80h-3.7" stroke="#181818" stroke-width="1.05" fill="none"/>
<text x="246.70" y="275.50" font-size="10.6" text-anchor="middle" textLength="6.36" lengthAdjust="spacingAndGlyphs">0</text>
<text x="284.90" y="275.50" font-size="10.6" text-anchor="middle" textLength="12.73" lengthAdjust="spacingAndGlyphs">20</text>
<text x="323.10" y="275.50" font-size="10.6" text-anchor="middle" textLength="12.73" lengthAdjust="spacingAndGlyphs">40</text>
<text x="361.30" y="275.50" font-size="10.6" text-anchor="middle" textLength="12.73" lengthAdjust="spacingAndGlyphs">60</text>
<text x="217.80" y="231.50" font-size="10.6" textLength="15.90" lengthAdjust="spacingAndGlyphs">0.5</text>
<text x="217.80" y="255.30" font-size="10.6" textLength="15.90" lengthAdjust="spacingAndGlyphs">0.0</text>
<text transform="translate(210.40,242.45) rotate(-90)" x="-9.37" y="0" font-size="10.2" textLength="18.73" lengthAdjust="spacingAndGlyphs">ALE</text>
<text x="309.90" y="289.60" font-size="10.6" text-anchor="middle" textLength="36.49" lengthAdjust="spacingAndGlyphs">P (mm)</text>
<text transform="translate(361.88,230.10) scale(1,0.93)" x="0" y="0" font-size="10.1" textLength="13.59" lengthAdjust="spacingAndGlyphs">(k)</text>
<path d="M440.70,222.80V260.90M491.00,222.80V260.90M540.90,222.80V260.90M434.60,230.50H573.20M434.60,249.70H573.20" stroke="#e2e2e2" stroke-width="0.9" fill="none"/>
<rect x="554.67" y="224.30" width="12.98" height="10" fill="#fff"/>
<path d="M440.70,258.40 L440.72,257.28 L440.75,256.17 L440.79,255.05 L440.83,254.31 L440.89,253.20 L440.96,252.09 L441.05,250.99 L441.15,249.88 L441.28,248.78 L441.44,247.68 L441.65,246.58 L441.80,245.85 L442.04,244.76 L442.31,243.68 L442.60,242.61 L442.93,241.55 L443.31,240.49 L443.72,239.45 L444.18,238.43 L444.51,237.77 L445.05,236.81 L445.65,235.87 L446.31,234.97 L447.05,234.12 L447.84,233.33 L448.68,232.64 L449.58,232.03 L450.21,231.66 L451.20,231.15 L452.22,230.67 L453.25,230.21 L454.27,229.75 L455.30,229.30 L456.33,228.86 L457.02,228.58 L458.06,228.20 L459.12,227.87 L460.18,227.58 L461.26,227.32 L462.34,227.08 L463.44,226.85 L464.54,226.65 L465.27,226.52 L466.38,226.37 L467.49,226.24 L468.60,226.16 L469.70,226.10 L470.81,226.06 L471.92,226.03 L473.03,226.01 L473.77,225.99 L474.88,225.97 L476.00,225.95 L477.11,225.94 L478.23,225.93 L479.34,225.92 L480.46,225.91 L481.20,225.90 L482.31,225.90 L483.43,225.90 L484.54,225.90 L485.65,225.90 L486.76,225.90 L487.87,225.90 L488.99,225.90 L489.73,225.90 L490.84,225.90 L491.95,225.90 L493.07,225.90 L494.18,225.90 L495.29,225.90 L496.40,225.90 L497.52,225.90 L498.26,225.90 L499.37,225.90 L500.48,225.90 L501.60,225.90 L502.71,225.90 L503.82,225.90 L504.93,225.90 L506.05,225.90 L506.79,225.90 L507.90,225.90 L509.01,225.90 L510.12,225.90 L511.24,225.89 L512.35,225.89 L513.46,225.89 L514.20,225.89 L515.32,225.88 L516.43,225.88 L517.54,225.88 L518.65,225.87 L519.77,225.87 L520.88,225.87 L521.99,225.86 L522.73,225.86 L523.84,225.85 L524.96,225.85 L526.07,225.84 L527.18,225.84 L528.29,225.83 L529.41,225.83 L530.52,225.82 L531.26,225.82 L532.37,225.81 L533.49,225.80 L534.60,225.80 L535.71,225.79 L536.82,225.78 L537.94,225.77 L538.68,225.77 L539.79,225.76 L540.90,225.75 L542.01,225.74 L543.13,225.73 L544.24,225.73 L545.35,225.72 L546.46,225.71 L547.21,225.70 L548.32,225.69 L549.43,225.68 L550.54,225.67 L551.66,225.66 L552.77,225.65 L553.88,225.64 L554.99,225.63 L555.73,225.62 L556.85,225.61 L557.96,225.60 L559.07,225.59 L560.18,225.58 L561.30,225.57 L562.41,225.56 L563.52,225.54 L564.26,225.54 L565.38,225.52 L566.49,225.51 L567.60,225.50" stroke="#0000ff" stroke-width="1.65" fill="none" stroke-linejoin="round" stroke-linecap="butt"/>
<path d="M439.60,260.60H471.00" stroke="#1f4f80" stroke-width="1.9" stroke-dasharray="2 1" fill="none" opacity="0.75"/>
<path d="M434.60,260.90V222.80H573.20V260.90" fill="none" stroke="#222" stroke-width="1.25"/>
<path d="M434.10,260.90H573.70" fill="none" stroke="#222" stroke-width="1.25"/>
<path d="M440.70,260.90v3.9M491.00,260.90v3.9M540.90,260.90v3.9M434.60,230.50h-3.7M434.60,249.70h-3.7" stroke="#181818" stroke-width="1.05" fill="none"/>
<text x="440.70" y="275.50" font-size="10.6" text-anchor="middle" textLength="6.36" lengthAdjust="spacingAndGlyphs">0</text>
<text x="491.00" y="275.50" font-size="10.6" text-anchor="middle" textLength="12.73" lengthAdjust="spacingAndGlyphs">50</text>
<text x="540.90" y="275.50" font-size="10.6" text-anchor="middle" textLength="19.09" lengthAdjust="spacingAndGlyphs">100</text>
<text x="411.80" y="234.00" font-size="10.6" textLength="15.90" lengthAdjust="spacingAndGlyphs">0.5</text>
<text x="411.80" y="253.20" font-size="10.6" textLength="15.90" lengthAdjust="spacingAndGlyphs">0.0</text>
<text transform="translate(404.40,242.45) rotate(-90)" x="-9.37" y="0" font-size="10.2" textLength="18.73" lengthAdjust="spacingAndGlyphs">ALE</text>
<text x="503.90" y="289.60" font-size="10.6" text-anchor="middle" textLength="36.49" lengthAdjust="spacingAndGlyphs">P (mm)</text>
<text transform="translate(555.88,230.10) scale(1,0.93)" x="0" y="0" font-size="10.1" textLength="10.58" lengthAdjust="spacingAndGlyphs">(l)</text>
<path d="M73.70,291.80V329.90M112.70,291.80V329.90M151.40,291.80V329.90M46.30,302.00H184.90M46.30,317.30H184.90" stroke="#e2e2e2" stroke-width="0.9" fill="none"/>
<rect x="166.38" y="293.30" width="19.94" height="10" fill="#fff"/>
<path d="M52.10,294.60 L53.14,294.64 L54.17,294.69 L55.20,294.77 L55.87,294.83 L56.88,294.95 L57.88,295.09 L58.87,295.27 L59.85,295.51 L60.83,295.82 L61.79,296.18 L62.75,296.59 L63.38,296.87 L64.31,297.32 L65.22,297.78 L66.12,298.26 L67.00,298.76 L67.86,299.30 L68.71,299.87 L69.55,300.46 L70.11,300.86 L70.95,301.46 L71.78,302.07 L72.62,302.67 L73.45,303.26 L74.29,303.86 L75.12,304.45 L75.94,305.06 L76.50,305.46 L77.32,306.06 L78.15,306.66 L78.98,307.26 L79.81,307.86 L80.65,308.44 L81.49,309.02 L82.06,309.40 L82.91,309.96 L83.77,310.52 L84.64,311.07 L85.50,311.61 L86.37,312.16 L87.23,312.71 L88.09,313.27 L88.66,313.64 L89.51,314.22 L90.34,314.80 L91.17,315.41 L91.99,316.02 L92.81,316.65 L93.62,317.27 L94.44,317.89 L94.99,318.29 L95.83,318.88 L96.67,319.44 L97.54,319.98 L98.41,320.50 L99.31,321.01 L100.21,321.50 L100.82,321.82 L101.73,322.28 L102.66,322.71 L103.60,323.12 L104.55,323.50 L105.50,323.85 L106.47,324.19 L107.45,324.51 L108.11,324.70 L109.10,324.96 L110.09,325.18 L111.09,325.36 L112.10,325.52 L113.11,325.66 L114.13,325.78 L115.15,325.90 L115.83,325.96 L116.85,326.05 L117.88,326.12 L118.90,326.17 L119.92,326.21 L120.94,326.25 L121.96,326.28 L122.99,326.30 L123.67,326.32 L124.69,326.34 L125.72,326.35 L126.74,326.37 L127.76,326.38 L128.79,326.39 L129.81,326.40 L130.49,326.40 L131.51,326.41 L132.54,326.41 L133.56,326.41 L134.58,326.42 L135.61,326.42 L136.63,326.43 L137.65,326.43 L138.33,326.43 L139.36,326.44 L140.38,326.44 L141.40,326.44 L142.43,326.45 L143.45,326.45 L144.47,326.45 L145.50,326.46 L146.18,326.46 L147.20,326.46 L148.22,326.46 L149.25,326.47 L150.27,326.47 L151.29,326.47 L152.32,326.47 L153.00,326.47 L154.02,326.48 L155.04,326.48 L156.07,326.48 L157.09,326.48 L158.11,326.48 L159.14,326.48 L160.16,326.49 L160.84,326.49 L161.87,326.49 L162.89,326.49 L163.91,326.49 L164.93,326.49 L165.96,326.49 L166.98,326.49 L168.00,326.50 L168.69,326.50 L169.71,326.50 L170.73,326.50 L171.76,326.50 L172.78,326.50 L173.80,326.50 L174.82,326.50 L175.85,326.50 L176.53,326.50 L177.55,326.50 L178.58,326.50 L179.60,326.50" stroke="#008000" stroke-width="1.65" fill="none" stroke-linejoin="round" stroke-linecap="butt"/>
<path d="M48.00,329.60H150.00" stroke="#1f4f80" stroke-width="1.9" stroke-dasharray="2 1" fill="none" opacity="0.75"/>
<path d="M150.00,329.60H180.00" stroke="#1d3f66" stroke-width="1.5" stroke-dasharray="1 5" fill="none" opacity="0.7"/>
<path d="M46.30,329.90V291.80H184.90V329.90" fill="none" stroke="#222" stroke-width="1.25"/>
<path d="M45.80,329.90H185.40" fill="none" stroke="#222" stroke-width="1.25"/>
<path d="M73.70,329.90v3.9M112.70,329.90v3.9M151.40,329.90v3.9M46.30,302.00h-3.7M46.30,317.30h-3.7" stroke="#181818" stroke-width="1.05" fill="none"/>
<text x="73.70" y="344.50" font-size="10.6" text-anchor="middle" textLength="12.73" lengthAdjust="spacingAndGlyphs">10</text>
<text x="112.70" y="344.50" font-size="10.6" text-anchor="middle" textLength="12.73" lengthAdjust="spacingAndGlyphs">20</text>
<text x="151.40" y="344.50" font-size="10.6" text-anchor="middle" textLength="12.73" lengthAdjust="spacingAndGlyphs">30</text>
<text x="33.04" y="305.50" font-size="10.6" textLength="6.36" lengthAdjust="spacingAndGlyphs">1</text>
<text x="33.04" y="320.80" font-size="10.6" textLength="6.36" lengthAdjust="spacingAndGlyphs">0</text>
<text transform="translate(25.64,311.45) rotate(-90)" x="-9.37" y="0" font-size="10.2" textLength="18.73" lengthAdjust="spacingAndGlyphs">ALE</text>
<text x="115.60" y="358.60" font-size="10.6" text-anchor="middle" textLength="49.60" lengthAdjust="spacingAndGlyphs">VPD (hPa)</text>
<text transform="translate(167.57,299.10) scale(1,0.93)" x="0" y="0" font-size="10.1" textLength="17.54" lengthAdjust="spacingAndGlyphs">(m)</text>
<path d="M245.30,291.80V329.90M300.90,291.80V329.90M356.50,291.80V329.90M240.60,294.10H379.20M240.60,317.30H379.20" stroke="#e2e2e2" stroke-width="0.9" fill="none"/>
<rect x="360.68" y="293.30" width="16.54" height="10" fill="#fff"/>
<path d="M246.10,294.60 L247.18,294.87 L248.19,295.21 L249.09,295.67 L249.63,296.07 L250.35,296.81 L251.00,297.69 L251.59,298.65 L252.13,299.62 L252.61,300.59 L253.06,301.56 L253.47,302.56 L253.73,303.23 L254.12,304.25 L254.50,305.27 L254.89,306.28 L255.28,307.29 L255.68,308.30 L256.08,309.31 L256.48,310.31 L256.76,310.98 L257.18,311.98 L257.62,312.96 L258.08,313.92 L258.58,314.88 L259.11,315.83 L259.67,316.76 L260.27,317.67 L260.69,318.26 L261.35,319.10 L262.06,319.90 L262.82,320.66 L263.63,321.38 L264.49,322.06 L265.39,322.67 L266.01,323.03 L266.95,323.52 L267.92,323.94 L268.93,324.32 L269.96,324.67 L271.01,324.97 L272.07,325.23 L273.14,325.43 L273.85,325.54 L274.91,325.67 L275.98,325.77 L277.05,325.86 L278.12,325.94 L279.20,326.01 L280.28,326.08 L281.36,326.14 L282.09,326.17 L283.17,326.21 L284.25,326.25 L285.34,326.28 L286.42,326.30 L287.49,326.32 L288.57,326.33 L289.29,326.34 L290.37,326.36 L291.45,326.37 L292.53,326.39 L293.61,326.40 L294.69,326.41 L295.76,326.42 L296.84,326.43 L297.56,326.44 L298.64,326.45 L299.72,326.46 L300.80,326.47 L301.88,326.47 L302.96,326.48 L304.04,326.49 L305.12,326.49 L305.84,326.49 L306.92,326.50 L308.00,326.50 L309.08,326.50 L310.15,326.50 L311.23,326.50 L312.31,326.50 L313.39,326.50 L314.11,326.50 L315.19,326.50 L316.27,326.50 L317.35,326.50 L318.43,326.50 L319.51,326.50 L320.59,326.50 L321.30,326.50 L322.38,326.50 L323.46,326.50 L324.54,326.50 L325.62,326.50 L326.70,326.50 L327.78,326.50 L328.86,326.50 L329.58,326.50 L330.66,326.50 L331.74,326.50 L332.81,326.50 L333.89,326.50 L334.97,326.50 L336.05,326.50 L337.13,326.50 L337.85,326.50 L338.93,326.50 L340.01,326.50 L341.09,326.50 L342.17,326.50 L343.25,326.50 L344.32,326.50 L345.04,326.50 L346.12,326.50 L347.20,326.50 L348.28,326.50 L349.36,326.50 L350.44,326.50 L351.52,326.50 L352.60,326.50 L353.32,326.50 L354.40,326.50 L355.48,326.50 L356.55,326.50 L357.63,326.50 L358.71,326.50 L359.79,326.50 L360.87,326.50 L361.59,326.50 L362.67,326.50 L363.75,326.50 L364.83,326.50 L365.91,326.50 L366.99,326.50 L368.06,326.50 L369.14,326.50 L369.86,326.50 L370.94,326.50 L372.02,326.50 L373.10,326.50" stroke="#ffa500" stroke-width="1.65" fill="none" stroke-linejoin="round" stroke-linecap="butt"/>
<path d="M243.00,329.60H310.00" stroke="#1f4f80" stroke-width="1.9" stroke-dasharray="2 1" fill="none" opacity="0.75"/>
<path d="M310.00,329.60H340.00" stroke="#1d3f66" stroke-width="1.5" stroke-dasharray="1 5" fill="none" opacity="0.7"/>
<path d="M240.60,329.90V291.80H379.20V329.90" fill="none" stroke="#222" stroke-width="1.25"/>
<path d="M240.10,329.90H379.70" fill="none" stroke="#222" stroke-width="1.25"/>
<path d="M245.30,329.90v3.9M300.90,329.90v3.9M356.50,329.90v3.9M240.60,294.10h-3.7M240.60,317.30h-3.7" stroke="#181818" stroke-width="1.05" fill="none"/>
<text x="245.30" y="344.50" font-size="10.6" text-anchor="middle" textLength="6.36" lengthAdjust="spacingAndGlyphs">0</text>
<text x="300.90" y="344.50" font-size="10.6" text-anchor="middle" textLength="12.73" lengthAdjust="spacingAndGlyphs">20</text>
<text x="356.50" y="344.50" font-size="10.6" text-anchor="middle" textLength="12.73" lengthAdjust="spacingAndGlyphs">40</text>
<text x="217.80" y="297.60" font-size="10.6" textLength="15.90" lengthAdjust="spacingAndGlyphs">0.5</text>
<text x="217.80" y="320.80" font-size="10.6" textLength="15.90" lengthAdjust="spacingAndGlyphs">0.0</text>
<text transform="translate(210.40,311.45) rotate(-90)" x="-9.37" y="0" font-size="10.2" textLength="18.73" lengthAdjust="spacingAndGlyphs">ALE</text>
<text x="309.90" y="358.60" font-size="10.6" text-anchor="middle" textLength="49.60" lengthAdjust="spacingAndGlyphs">VPD (hPa)</text>
<text transform="translate(361.88,299.10) scale(1,0.93)" x="0" y="0" font-size="10.1" textLength="14.14" lengthAdjust="spacingAndGlyphs">(n)</text>
<path d="M439.20,291.80V329.90M480.40,291.80V329.90M520.50,291.80V329.90M561.50,291.80V329.90M434.60,292.70H573.20M434.60,312.40H573.20" stroke="#e2e2e2" stroke-width="0.9" fill="none"/>
<rect x="554.67" y="293.30" width="16.32" height="10" fill="#fff"/>
<path d="M440.70,294.60 L441.55,295.18 L442.39,295.78 L443.21,296.40 L443.74,296.83 L444.50,297.50 L445.24,298.20 L445.93,298.95 L446.60,299.72 L447.25,300.52 L447.90,301.32 L448.58,302.08 L449.04,302.58 L449.77,303.29 L450.53,303.96 L451.32,304.62 L452.13,305.25 L452.96,305.86 L453.79,306.46 L454.64,307.03 L455.21,307.41 L456.08,307.95 L456.96,308.47 L457.85,308.98 L458.74,309.49 L459.63,310.00 L460.50,310.54 L461.36,311.09 L461.93,311.47 L462.77,312.05 L463.60,312.65 L464.43,313.24 L465.27,313.84 L466.10,314.44 L466.94,315.03 L467.50,315.42 L468.34,316.01 L469.18,316.60 L470.03,317.18 L470.88,317.76 L471.73,318.32 L472.60,318.86 L473.48,319.38 L474.07,319.71 L474.98,320.18 L475.89,320.63 L476.82,321.06 L477.76,321.47 L478.71,321.86 L479.67,322.24 L480.63,322.59 L481.28,322.81 L482.25,323.14 L483.22,323.46 L484.21,323.77 L485.19,324.06 L486.19,324.34 L487.18,324.58 L487.85,324.73 L488.85,324.91 L489.86,325.06 L490.87,325.17 L491.88,325.26 L492.89,325.35 L493.91,325.42 L494.93,325.49 L495.61,325.53 L496.64,325.59 L497.66,325.64 L498.69,325.69 L499.72,325.74 L500.75,325.78 L501.77,325.82 L502.80,325.86 L503.48,325.88 L504.51,325.92 L505.53,325.95 L506.55,325.99 L507.58,326.02 L508.60,326.05 L509.62,326.08 L510.65,326.11 L511.33,326.13 L512.35,326.16 L513.38,326.19 L514.40,326.21 L515.42,326.23 L516.45,326.25 L517.47,326.27 L518.15,326.28 L519.18,326.29 L520.20,326.30 L521.23,326.31 L522.25,326.32 L523.27,326.33 L524.30,326.33 L525.32,326.34 L526.00,326.35 L527.03,326.35 L528.05,326.36 L529.07,326.37 L530.10,326.37 L531.12,326.38 L532.14,326.39 L533.17,326.39 L533.85,326.40 L534.88,326.40 L535.90,326.41 L536.92,326.42 L537.95,326.42 L538.97,326.43 L539.99,326.43 L540.68,326.43 L541.70,326.44 L542.72,326.44 L543.75,326.45 L544.77,326.45 L545.80,326.46 L546.82,326.46 L547.84,326.46 L548.53,326.47 L549.55,326.47 L550.57,326.47 L551.60,326.48 L552.62,326.48 L553.65,326.48 L554.67,326.48 L555.69,326.49 L556.38,326.49 L557.40,326.49 L558.42,326.49 L559.45,326.49 L560.47,326.50 L561.50,326.50 L562.52,326.50 L563.54,326.50 L564.23,326.50 L565.25,326.50 L566.28,326.50 L567.30,326.50" stroke="#0000ff" stroke-width="1.65" fill="none" stroke-linejoin="round" stroke-linecap="butt"/>
<path d="M437.00,329.60H500.00" stroke="#1f4f80" stroke-width="1.9" stroke-dasharray="2 1" fill="none" opacity="0.75"/>
<path d="M500.00,329.60H570.00" stroke="#1d3f66" stroke-width="1.5" stroke-dasharray="1 5" fill="none" opacity="0.7"/>
<path d="M434.60,329.90V291.80H573.20V329.90" fill="none" stroke="#222" stroke-width="1.25"/>
<path d="M434.10,329.90H573.70" fill="none" stroke="#222" stroke-width="1.25"/>
<path d="M439.20,329.90v3.9M480.40,329.90v3.9M520.50,329.90v3.9M561.50,329.90v3.9M434.60,292.70h-3.7M434.60,312.40h-3.7" stroke="#181818" stroke-width="1.05" fill="none"/>
<text x="439.20" y="344.50" font-size="10.6" text-anchor="middle" textLength="6.36" lengthAdjust="spacingAndGlyphs">0</text>
<text x="480.40" y="344.50" font-size="10.6" text-anchor="middle" textLength="12.73" lengthAdjust="spacingAndGlyphs">10</text>
<text x="520.50" y="344.50" font-size="10.6" text-anchor="middle" textLength="12.73" lengthAdjust="spacingAndGlyphs">20</text>
<text x="561.50" y="344.50" font-size="10.6" text-anchor="middle" textLength="12.73" lengthAdjust="spacingAndGlyphs">30</text>
<text x="411.80" y="296.20" font-size="10.6" textLength="15.90" lengthAdjust="spacingAndGlyphs">0.5</text>
<text x="411.80" y="315.90" font-size="10.6" textLength="15.90" lengthAdjust="spacingAndGlyphs">0.0</text>
<text transform="translate(404.40,311.45) rotate(-90)" x="-9.37" y="0" font-size="10.2" textLength="18.73" lengthAdjust="spacingAndGlyphs">ALE</text>
<text x="503.90" y="358.60" font-size="10.6" text-anchor="middle" textLength="49.60" lengthAdjust="spacingAndGlyphs">VPD (hPa)</text>
<text transform="translate(555.88,299.10) scale(1,0.93)" x="0" y="0" font-size="10.1" textLength="13.92" lengthAdjust="spacingAndGlyphs">(o)</text>
</svg></body></html>
